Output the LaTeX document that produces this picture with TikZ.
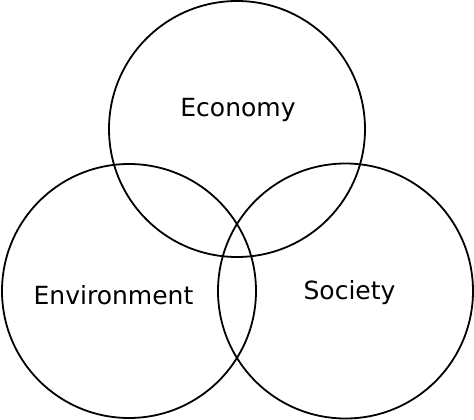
\documentclass[tikz,border=0pt]{standalone}
\usepackage{fontspec}
\setmainfont{DejaVu Sans}
\begin{document}
\begin{tikzpicture}[x=1pt,y=-1pt,
  ring/.style={draw=black,line width=1.8pt},
  lbl/.style={anchor=base,inner sep=0pt,font=\fontsize{25}{30}\selectfont}]
\useasboundingbox (0,0) rectangle (474,420);
\draw[ring] (237,129) circle[radius=128];
\draw[ring] (129,291) circle[radius=127];
\draw[ring] (345.5,291) circle[radius=127.5];
\node[lbl] (eco) at (238,116.7) {Economy};
\node[lbl] (env) at (113.5,304) {Environment};
\node[lbl] (soc) at (349.5,299) {Society};
\end{tikzpicture}
\end{document}
